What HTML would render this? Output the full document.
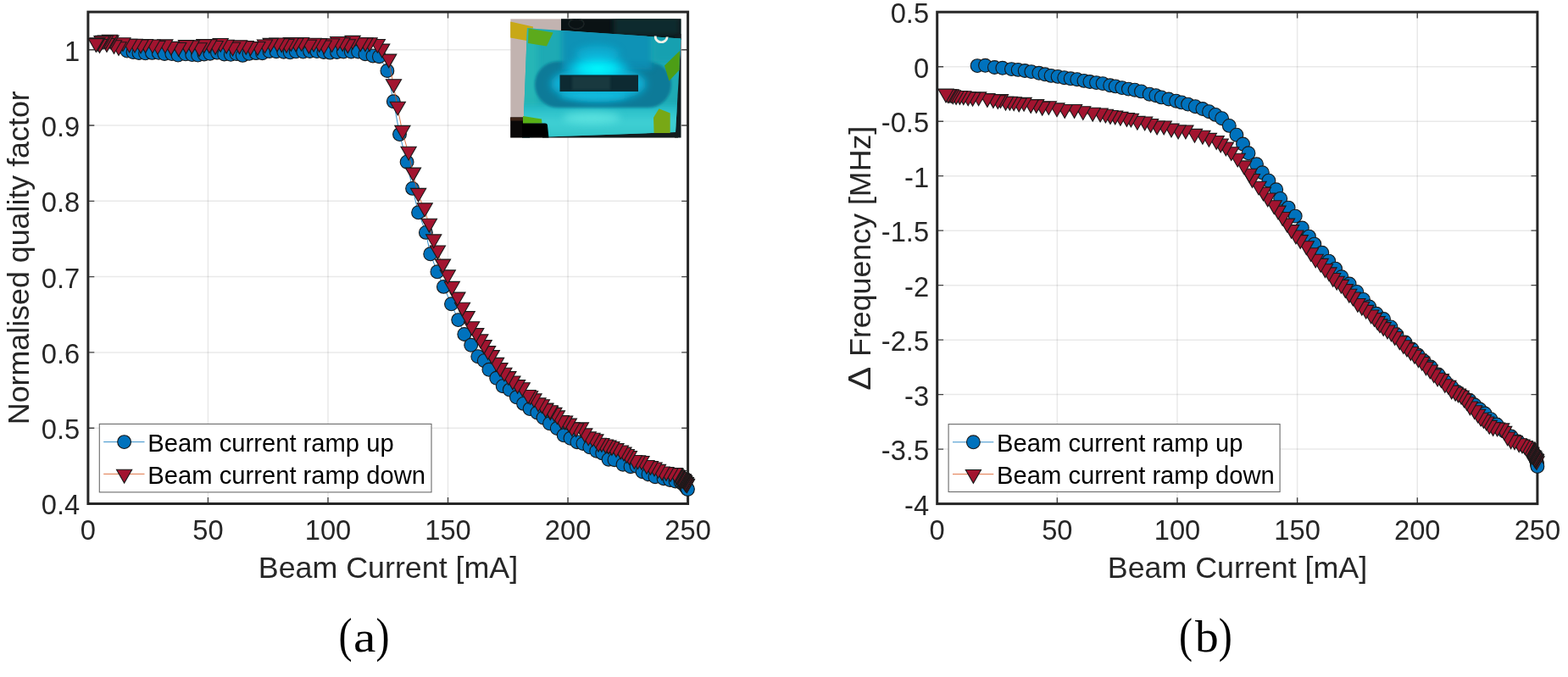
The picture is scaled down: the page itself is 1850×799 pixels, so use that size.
<!DOCTYPE html>
<html><head><meta charset="utf-8"><title>figure</title><style>html,body{margin:0;padding:0;background:#fff;width:1850px;height:799px;overflow:hidden}svg{display:block}</style></head><body>
<svg width="1850" height="799" viewBox="0 0 1850 799" font-family="'Liberation Sans', Arial, Helvetica, sans-serif" font-size="32.7" fill="#262626">
<rect width="1850" height="799" fill="#fff"/>
<path d="M245.44 14.10V594.50M386.98 14.10V594.50M528.52 14.10V594.50M670.06 14.10V594.50" stroke="#262626" stroke-opacity="0.1" stroke-width="1.5" fill="none"/>
<path d="M103.90 505.21H811.60M103.90 415.92H811.60M103.90 326.62H811.60M103.90 237.33H811.60M103.90 148.04H811.60M103.90 58.75H811.60" stroke="#262626" stroke-opacity="0.1" stroke-width="1.5" fill="none"/>
<path d="M103.90 594.50v-7.4M103.90 14.10v7.4M245.44 594.50v-7.4M245.44 14.10v7.4M386.98 594.50v-7.4M386.98 14.10v7.4M528.52 594.50v-7.4M528.52 14.10v7.4M670.06 594.50v-7.4M670.06 14.10v7.4M811.60 594.50v-7.4M811.60 14.10v7.4M103.90 594.50h7.4M811.60 594.50h-7.4M103.90 505.21h7.4M811.60 505.21h-7.4M103.90 415.92h7.4M811.60 415.92h-7.4M103.90 326.62h7.4M811.60 326.62h-7.4M103.90 237.33h7.4M811.60 237.33h-7.4M103.90 148.04h7.4M811.60 148.04h-7.4M103.90 58.75h7.4M811.60 58.75h-7.4" stroke="#444" stroke-width="1.4" fill="none"/>
<rect x="103.90" y="14.10" width="707.70" height="580.40" fill="none" stroke="#262626" stroke-width="3"/>
<defs>
<clipPath id="inclip"><rect x="602.2" y="22.2" width="201.3" height="140.4"/></clipPath>
<clipPath id="sheetclip"><path d="M622 33.3L803.5 45.5L797 156L617 162.6Z"/></clipPath>
<filter id="b1" x="-10%" y="-10%" width="120%" height="120%"><feGaussianBlur stdDeviation="0.6"/></filter>
<filter id="b15" x="-20%" y="-20%" width="140%" height="140%"><feGaussianBlur stdDeviation="1.5"/></filter>
<filter id="b3" x="-30%" y="-30%" width="160%" height="160%"><feGaussianBlur stdDeviation="3"/></filter>
<filter id="b5" x="-50%" y="-50%" width="200%" height="200%"><feGaussianBlur stdDeviation="5"/></filter>
<radialGradient id="glow" cx="0.5" cy="0.5" r="0.5">
<stop offset="0" stop-color="#00ffff"/>
<stop offset="0.5" stop-color="#00f0ff" stop-opacity="0.8"/>
<stop offset="1" stop-color="#00d8f8" stop-opacity="0"/>
</radialGradient>
<linearGradient id="botg" x1="0" y1="0" x2="0" y2="1">
<stop offset="0" stop-color="#22b8c4"/>
<stop offset="0.5" stop-color="#40d0d4"/>
<stop offset="1" stop-color="#30c4c8"/>
</linearGradient>
</defs>
<g clip-path="url(#inclip)">
<rect x="602.2" y="22.2" width="201.3" height="140.4" fill="#c2b3b0"/>
<path d="M662 22H804V47L662 36Z" fill="#0a1214"/>
<rect x="724" y="20" width="78" height="22" fill="#0d2a2e" filter="url(#b3)"/>
<ellipse cx="680" cy="28" rx="9" ry="6" fill="none" stroke="#1a2224" stroke-width="1.6" filter="url(#b1)"/>
<rect x="796" y="40" width="10" height="123" fill="#101d21"/>
<path d="M602 138.5H625V163H602Z" fill="#0a0808"/>
<rect x="602" y="138.5" width="20" height="4" fill="#3a2014" filter="url(#b1)"/>
<path d="M640 160.5L800 154V163H640Z" fill="#141c1e"/>
<path d="M602 25.5L629 31.5L627 49L602 44.5Z" fill="#c8a814" filter="url(#b1)"/>
<g clip-path="url(#sheetclip)">
<rect x="600" y="30" width="210" height="140" fill="#1eaab4"/>
<rect x="600" y="30" width="34" height="100" fill="#26b6b6" filter="url(#b3)"/>
<rect x="604" y="124" width="200" height="40" fill="url(#botg)" filter="url(#b3)"/>
<ellipse cx="698" cy="139" rx="34" ry="7" fill="#70f0e8" opacity="0.6" filter="url(#b5)"/>
<rect x="631" y="72.5" width="161" height="54.5" rx="27" fill="#0c7a98" filter="url(#b15)"/>
<rect x="663" y="26" width="106" height="56" fill="#1090b6" opacity="0.9" filter="url(#b3)"/>
<rect x="770" y="40" width="40" height="34" fill="#16a0b0" filter="url(#b3)"/>
<ellipse cx="706" cy="99" rx="56" ry="21" fill="#0eb2d8" filter="url(#b5)"/>
<ellipse cx="705" cy="80" rx="40" ry="17" fill="url(#glow)" filter="url(#b3)"/>
<ellipse cx="705" cy="64" rx="26" ry="10" fill="#08c4e8" opacity="0.55" filter="url(#b5)"/>
<ellipse cx="700" cy="113" rx="40" ry="5" fill="#14c0e0" opacity="0.6" filter="url(#b3)"/>
<rect x="660.5" y="88.5" width="92.5" height="19.5" fill="#0a2a30" filter="url(#b1)"/>
<rect x="675" y="90" width="45" height="16" fill="#3a6464" opacity="0.28" filter="url(#b15)"/>
</g>
<path d="M623.5 33.6L652.6 38.5L645 54.5L623 51Z" fill="#5caa1c" filter="url(#b1)"/>
<path d="M784 77.5L802 60L801.5 82.5L789.5 95.5Z" fill="#4e9e14" filter="url(#b1)"/>
<path d="M617 137L639 140.5L639.5 145.5L617 146Z" fill="#58b018" filter="url(#b1)"/>
<path d="M771 138.8L777.5 128.3L790.7 133.6L790.7 157L771.6 157Z" fill="#78a818" filter="url(#b1)"/>
<path d="M616 145.5H643A3 3 0 0 1 646 148.5L647.5 163H616Z" fill="#060606" filter="url(#b1)"/>
<path d="M773.2 42.5A7 6.8 0 0 0 787.2 43.5" fill="none" stroke="#f4f2e8" stroke-width="2.8" filter="url(#b1)"/>
</g>
<polyline points="150.00,60.04 157.07,61.60 163.96,62.49 171.54,62.83 179.46,62.41 187.20,62.38 194.13,63.50 202.81,63.53 210.05,65.08 219.01,63.82 226.67,64.57 233.49,65.12 240.89,63.93 247.89,63.26 256.54,62.17 264.63,64.01 272.23,64.37 279.09,63.64 286.29,65.41 294.02,63.37 302.13,62.65 309.55,62.73 317.92,60.46 326.00,60.72 334.79,61.20 342.19,61.85 349.18,60.83 357.69,61.05 365.56,60.43 373.86,60.62 381.94,61.44 389.39,62.17 397.52,61.52 405.31,60.96 414.27,61.02 422.56,61.00 430.93,63.73 440.00,65.97 447.39,66.70 456.90,83.50 464.30,119.80 471.50,158.60 480.10,191.20 486.60,222.40 493.60,250.80 502.40,274.40 507.70,299.80 515.90,320.80 523.40,338.40 532.50,358.80 540.70,377.60 547.80,394.50 555.70,407.30 563.80,420.70 571.30,425.70 576.90,436.30 585.70,446.30 593.20,455.70 601.30,460.10 609.40,468.80 617.60,476.40 625.10,482.60 633.80,487.00 641.00,493.00 648.50,499.80 657.30,505.50 665.20,513.80 673.00,517.30 680.90,521.70 687.90,523.50 695.80,527.80 703.70,532.20 710.70,534.90 718.00,542.20 725.00,542.70 735.00,548.20 744.00,550.70 751.00,550.20 758.00,556.70 765.00,559.70 773.00,562.70 783.00,564.70 790.50,566.50 797.00,568.00 803.00,569.00 805.00,570.50 807.00,572.00 808.50,573.50 809.50,575.00 810.30,576.00 811.00,577.00 811.40,577.50" fill="none" stroke="#0072BD" stroke-width="0.8"/>
<g fill="#0072BD" stroke="#1a1a1a" stroke-width="1.1"><circle cx="150.00" cy="60.04" r="7.9"/><circle cx="157.07" cy="61.60" r="7.9"/><circle cx="163.96" cy="62.49" r="7.9"/><circle cx="171.54" cy="62.83" r="7.9"/><circle cx="179.46" cy="62.41" r="7.9"/><circle cx="187.20" cy="62.38" r="7.9"/><circle cx="194.13" cy="63.50" r="7.9"/><circle cx="202.81" cy="63.53" r="7.9"/><circle cx="210.05" cy="65.08" r="7.9"/><circle cx="219.01" cy="63.82" r="7.9"/><circle cx="226.67" cy="64.57" r="7.9"/><circle cx="233.49" cy="65.12" r="7.9"/><circle cx="240.89" cy="63.93" r="7.9"/><circle cx="247.89" cy="63.26" r="7.9"/><circle cx="256.54" cy="62.17" r="7.9"/><circle cx="264.63" cy="64.01" r="7.9"/><circle cx="272.23" cy="64.37" r="7.9"/><circle cx="279.09" cy="63.64" r="7.9"/><circle cx="286.29" cy="65.41" r="7.9"/><circle cx="294.02" cy="63.37" r="7.9"/><circle cx="302.13" cy="62.65" r="7.9"/><circle cx="309.55" cy="62.73" r="7.9"/><circle cx="317.92" cy="60.46" r="7.9"/><circle cx="326.00" cy="60.72" r="7.9"/><circle cx="334.79" cy="61.20" r="7.9"/><circle cx="342.19" cy="61.85" r="7.9"/><circle cx="349.18" cy="60.83" r="7.9"/><circle cx="357.69" cy="61.05" r="7.9"/><circle cx="365.56" cy="60.43" r="7.9"/><circle cx="373.86" cy="60.62" r="7.9"/><circle cx="381.94" cy="61.44" r="7.9"/><circle cx="389.39" cy="62.17" r="7.9"/><circle cx="397.52" cy="61.52" r="7.9"/><circle cx="405.31" cy="60.96" r="7.9"/><circle cx="414.27" cy="61.02" r="7.9"/><circle cx="422.56" cy="61.00" r="7.9"/><circle cx="430.93" cy="63.73" r="7.9"/><circle cx="440.00" cy="65.97" r="7.9"/><circle cx="447.39" cy="66.70" r="7.9"/><circle cx="456.90" cy="83.50" r="7.9"/><circle cx="464.30" cy="119.80" r="7.9"/><circle cx="471.50" cy="158.60" r="7.9"/><circle cx="480.10" cy="191.20" r="7.9"/><circle cx="486.60" cy="222.40" r="7.9"/><circle cx="493.60" cy="250.80" r="7.9"/><circle cx="502.40" cy="274.40" r="7.9"/><circle cx="507.70" cy="299.80" r="7.9"/><circle cx="515.90" cy="320.80" r="7.9"/><circle cx="523.40" cy="338.40" r="7.9"/><circle cx="532.50" cy="358.80" r="7.9"/><circle cx="540.70" cy="377.60" r="7.9"/><circle cx="547.80" cy="394.50" r="7.9"/><circle cx="555.70" cy="407.30" r="7.9"/><circle cx="563.80" cy="420.70" r="7.9"/><circle cx="571.30" cy="425.70" r="7.9"/><circle cx="576.90" cy="436.30" r="7.9"/><circle cx="585.70" cy="446.30" r="7.9"/><circle cx="593.20" cy="455.70" r="7.9"/><circle cx="601.30" cy="460.10" r="7.9"/><circle cx="609.40" cy="468.80" r="7.9"/><circle cx="617.60" cy="476.40" r="7.9"/><circle cx="625.10" cy="482.60" r="7.9"/><circle cx="633.80" cy="487.00" r="7.9"/><circle cx="641.00" cy="493.00" r="7.9"/><circle cx="648.50" cy="499.80" r="7.9"/><circle cx="657.30" cy="505.50" r="7.9"/><circle cx="665.20" cy="513.80" r="7.9"/><circle cx="673.00" cy="517.30" r="7.9"/><circle cx="680.90" cy="521.70" r="7.9"/><circle cx="687.90" cy="523.50" r="7.9"/><circle cx="695.80" cy="527.80" r="7.9"/><circle cx="703.70" cy="532.20" r="7.9"/><circle cx="710.70" cy="534.90" r="7.9"/><circle cx="718.00" cy="542.20" r="7.9"/><circle cx="725.00" cy="542.70" r="7.9"/><circle cx="735.00" cy="548.20" r="7.9"/><circle cx="744.00" cy="550.70" r="7.9"/><circle cx="751.00" cy="550.20" r="7.9"/><circle cx="758.00" cy="556.70" r="7.9"/><circle cx="765.00" cy="559.70" r="7.9"/><circle cx="773.00" cy="562.70" r="7.9"/><circle cx="783.00" cy="564.70" r="7.9"/><circle cx="790.50" cy="566.50" r="7.9"/><circle cx="797.00" cy="568.00" r="7.9"/><circle cx="803.00" cy="569.00" r="7.9"/><circle cx="805.00" cy="570.50" r="7.9"/><circle cx="807.00" cy="572.00" r="7.9"/><circle cx="808.50" cy="573.50" r="7.9"/><circle cx="809.50" cy="575.00" r="7.9"/><circle cx="810.30" cy="576.00" r="7.9"/><circle cx="811.00" cy="577.00" r="7.9"/><circle cx="811.40" cy="577.50" r="7.9"/></g>
<polyline points="113.30,53.50 115.00,52.60 117.50,54.40 120.00,50.50 122.00,50.10 124.50,49.90 126.00,53.40 129.50,49.10 131.00,50.00 134.50,55.60 140.00,57.60 145.00,52.60 152.60,54.10 159.00,54.09 166.03,54.92 171.58,54.41 179.94,54.86 186.05,56.29 194.85,54.77 201.83,57.22 210.69,58.45 219.46,55.46 226.30,55.74 235.16,58.68 240.85,54.50 246.89,54.68 254.03,56.42 260.20,53.32 267.05,55.15 274.54,58.11 282.56,55.75 290.27,56.51 295.54,57.62 303.95,57.41 312.44,54.82 319.20,53.25 326.98,52.95 332.31,53.66 338.05,54.29 343.32,52.47 349.01,52.94 355.62,52.36 364.44,55.16 370.12,53.11 376.66,53.49 382.23,55.85 391.56,53.58 398.70,51.39 404.18,52.47 410.36,54.69 416.10,50.22 425.25,52.65 430.92,52.72 436.08,52.65 445.34,54.39 450.70,60.00 458.70,72.00 464.50,101.60 469.30,128.10 474.90,156.30 482.10,181.10 487.50,206.00 493.60,230.30 501.20,247.80 506.40,266.20 511.70,284.80 516.40,297.90 522.50,314.00 528.30,326.80 533.30,340.30 539.90,353.00 545.50,365.20 551.20,375.50 556.60,387.60 561.80,395.50 566.80,402.80 571.20,409.50 575.60,416.50 580.30,421.50 585.60,430.30 590.00,436.50 594.90,442.10 599.90,446.50 604.90,451.90 610.60,456.50 616.20,459.60 623.10,468.40 625.60,469.60 630.00,472.80 635.00,477.80 639.40,479.70 643.70,484.70 643.80,484.00 649.00,486.70 649.40,487.80 653.90,489.30 657.40,492.80 662.20,498.50 666.60,498.90 671.40,502.00 674.90,506.80 679.70,507.70 685.40,506.80 689.80,513.80 694.20,517.80 699.00,519.10 702.90,520.80 706.00,525.20 709.90,525.40 714.40,526.90 718.00,528.00 721.90,529.40 727.00,531.50 732.40,533.90 736.00,536.00 739.40,538.40 742.40,540.40 748.40,545.40 752.50,545.80 757.00,546.40 763.00,551.40 767.50,552.50 772.00,553.90 776.50,556.30 781.00,558.90 786.00,559.50 791.00,560.50 796.00,560.43 796.58,561.14 797.16,561.12 797.74,563.03 798.32,562.92 798.90,563.97 799.48,563.35 800.06,563.56 800.64,565.43 801.22,566.30 801.80,566.45 802.38,566.79 802.96,567.28 803.54,567.56 804.12,566.78 804.70,567.94 805.28,568.01 805.86,567.69 806.44,568.15 807.02,569.21 807.60,569.62 808.18,571.12 808.76,572.22 809.34,571.45 809.92,573.09 810.50,573.67" fill="none" stroke="#D95319" stroke-width="0.8"/>
<g fill="#A2142F" stroke="#1a1a1a" stroke-width="1.1" stroke-linejoin="miter"><path d="M801.40 565.79H819.60L810.50 581.55Z"/><path d="M800.82 565.21H819.02L809.92 580.97Z"/><path d="M800.24 563.57H818.44L809.34 579.33Z"/><path d="M799.66 564.34H817.86L808.76 580.10Z"/><path d="M799.08 563.24H817.28L808.18 579.00Z"/><path d="M798.50 561.74H816.70L807.60 577.50Z"/><path d="M797.92 561.33H816.12L807.02 577.09Z"/><path d="M797.34 560.27H815.54L806.44 576.03Z"/><path d="M796.76 559.81H814.96L805.86 575.57Z"/><path d="M796.18 560.13H814.38L805.28 575.89Z"/><path d="M795.60 560.06H813.80L804.70 575.82Z"/><path d="M795.02 558.90H813.22L804.12 574.66Z"/><path d="M794.44 559.68H812.64L803.54 575.44Z"/><path d="M793.86 559.40H812.06L802.96 575.16Z"/><path d="M793.28 558.91H811.48L802.38 574.68Z"/><path d="M792.70 558.57H810.90L801.80 574.33Z"/><path d="M792.12 558.42H810.32L801.22 574.18Z"/><path d="M791.54 557.55H809.74L800.64 573.31Z"/><path d="M790.96 555.67H809.16L800.06 571.44Z"/><path d="M790.38 555.47H808.58L799.48 571.23Z"/><path d="M789.80 556.09H808.00L798.90 571.85Z"/><path d="M789.22 555.04H807.42L798.32 570.80Z"/><path d="M788.64 555.15H806.84L797.74 570.91Z"/><path d="M788.06 553.24H806.26L797.16 569.00Z"/><path d="M787.48 553.26H805.68L796.58 569.02Z"/><path d="M786.90 552.55H805.10L796.00 568.31Z"/><path d="M781.90 552.62H800.10L791.00 568.38Z"/><path d="M776.90 551.62H795.10L786.00 567.38Z"/><path d="M771.90 551.02H790.10L781.00 566.78Z"/><path d="M767.40 548.42H785.60L776.50 564.18Z"/><path d="M762.90 546.02H781.10L772.00 561.78Z"/><path d="M758.40 544.62H776.60L767.50 560.38Z"/><path d="M753.90 543.52H772.10L763.00 559.28Z"/><path d="M747.90 538.52H766.10L757.00 554.28Z"/><path d="M743.40 537.92H761.60L752.50 553.68Z"/><path d="M739.30 537.52H757.50L748.40 553.28Z"/><path d="M733.30 532.52H751.50L742.40 548.28Z"/><path d="M730.30 530.52H748.50L739.40 546.28Z"/><path d="M726.90 528.12H745.10L736.00 543.88Z"/><path d="M723.30 526.02H741.50L732.40 541.78Z"/><path d="M717.90 523.62H736.10L727.00 539.38Z"/><path d="M712.80 521.52H731.00L721.90 537.28Z"/><path d="M708.90 520.12H727.10L718.00 535.88Z"/><path d="M705.30 519.02H723.50L714.40 534.78Z"/><path d="M700.80 517.52H719.00L709.90 533.28Z"/><path d="M696.90 517.32H715.10L706.00 533.08Z"/><path d="M693.80 512.92H712.00L702.90 528.68Z"/><path d="M689.90 511.22H708.10L699.00 526.98Z"/><path d="M685.10 509.92H703.30L694.20 525.68Z"/><path d="M680.70 505.92H698.90L689.80 521.68Z"/><path d="M676.30 498.92H694.50L685.40 514.68Z"/><path d="M670.60 499.82H688.80L679.70 515.58Z"/><path d="M665.80 498.92H684.00L674.90 514.68Z"/><path d="M662.30 494.12H680.50L671.40 509.88Z"/><path d="M657.50 491.02H675.70L666.60 506.78Z"/><path d="M653.10 490.62H671.30L662.20 506.38Z"/><path d="M648.30 484.92H666.50L657.40 500.68Z"/><path d="M644.80 481.42H663.00L653.90 497.18Z"/><path d="M640.30 479.92H658.50L649.40 495.68Z"/><path d="M639.90 478.82H658.10L649.00 494.58Z"/><path d="M634.70 476.12H652.90L643.80 491.88Z"/><path d="M634.60 476.82H652.80L643.70 492.58Z"/><path d="M630.30 471.82H648.50L639.40 487.58Z"/><path d="M625.90 469.92H644.10L635.00 485.68Z"/><path d="M620.90 464.92H639.10L630.00 480.68Z"/><path d="M616.50 461.72H634.70L625.60 477.48Z"/><path d="M614.00 460.52H632.20L623.10 476.28Z"/><path d="M607.10 451.72H625.30L616.20 467.48Z"/><path d="M601.50 448.62H619.70L610.60 464.38Z"/><path d="M595.80 444.02H614.00L604.90 459.78Z"/><path d="M590.80 438.62H609.00L599.90 454.38Z"/><path d="M585.80 434.22H604.00L594.90 449.98Z"/><path d="M580.90 428.62H599.10L590.00 444.38Z"/><path d="M576.50 422.42H594.70L585.60 438.18Z"/><path d="M571.20 413.62H589.40L580.30 429.38Z"/><path d="M566.50 408.62H584.70L575.60 424.38Z"/><path d="M562.10 401.62H580.30L571.20 417.38Z"/><path d="M557.70 394.92H575.90L566.80 410.68Z"/><path d="M552.70 387.62H570.90L561.80 403.38Z"/><path d="M547.50 379.72H565.70L556.60 395.48Z"/><path d="M542.10 367.62H560.30L551.20 383.38Z"/><path d="M536.40 357.32H554.60L545.50 373.08Z"/><path d="M530.80 345.12H549.00L539.90 360.88Z"/><path d="M524.20 332.42H542.40L533.30 348.18Z"/><path d="M519.20 318.92H537.40L528.30 334.68Z"/><path d="M513.40 306.12H531.60L522.50 321.88Z"/><path d="M507.30 290.02H525.50L516.40 305.78Z"/><path d="M502.60 276.92H520.80L511.70 292.68Z"/><path d="M497.30 258.32H515.50L506.40 274.08Z"/><path d="M492.10 239.92H510.30L501.20 255.68Z"/><path d="M484.50 222.42H502.70L493.60 238.18Z"/><path d="M478.40 198.12H496.60L487.50 213.88Z"/><path d="M473.00 173.22H491.20L482.10 188.98Z"/><path d="M465.80 148.42H484.00L474.90 164.18Z"/><path d="M460.20 120.22H478.40L469.30 135.98Z"/><path d="M455.40 93.72H473.60L464.50 109.48Z"/><path d="M449.60 64.12H467.80L458.70 79.88Z"/><path d="M441.60 52.12H459.80L450.70 67.88Z"/><path d="M436.24 46.51H454.44L445.34 62.27Z"/><path d="M426.98 44.77H445.18L436.08 60.53Z"/><path d="M421.82 44.84H440.02L430.92 60.61Z"/><path d="M416.15 44.77H434.35L425.25 60.53Z"/><path d="M407.00 42.33H425.20L416.10 58.10Z"/><path d="M401.26 46.81H419.46L410.36 62.57Z"/><path d="M395.08 44.59H413.28L404.18 60.35Z"/><path d="M389.60 43.51H407.80L398.70 59.27Z"/><path d="M382.46 45.70H400.66L391.56 61.46Z"/><path d="M373.13 47.97H391.33L382.23 63.73Z"/><path d="M367.56 45.61H385.76L376.66 61.37Z"/><path d="M361.02 45.23H379.22L370.12 60.99Z"/><path d="M355.34 47.28H373.54L364.44 63.04Z"/><path d="M346.52 44.48H364.72L355.62 60.24Z"/><path d="M339.91 45.06H358.11L349.01 60.82Z"/><path d="M334.22 44.59H352.42L343.32 60.35Z"/><path d="M328.95 46.41H347.15L338.05 62.17Z"/><path d="M323.21 45.78H341.41L332.31 61.54Z"/><path d="M317.88 45.07H336.08L326.98 60.83Z"/><path d="M310.10 45.37H328.30L319.20 61.13Z"/><path d="M303.34 46.94H321.54L312.44 62.70Z"/><path d="M294.85 49.53H313.05L303.95 65.29Z"/><path d="M286.44 49.74H304.64L295.54 65.50Z"/><path d="M281.17 48.63H299.37L290.27 64.39Z"/><path d="M273.46 47.87H291.66L282.56 63.64Z"/><path d="M265.44 50.23H283.64L274.54 65.99Z"/><path d="M257.95 47.27H276.15L267.05 63.03Z"/><path d="M251.10 45.44H269.30L260.20 61.20Z"/><path d="M244.93 48.54H263.13L254.03 64.30Z"/><path d="M237.79 46.79H255.99L246.89 62.56Z"/><path d="M231.75 46.62H249.95L240.85 62.38Z"/><path d="M226.06 50.80H244.26L235.16 66.56Z"/><path d="M217.20 47.86H235.40L226.30 63.62Z"/><path d="M210.36 47.58H228.56L219.46 63.34Z"/><path d="M201.59 50.57H219.79L210.69 66.33Z"/><path d="M192.73 49.34H210.93L201.83 65.10Z"/><path d="M185.75 46.88H203.95L194.85 62.65Z"/><path d="M176.95 48.41H195.15L186.05 64.17Z"/><path d="M170.84 46.98H189.04L179.94 62.74Z"/><path d="M162.48 46.53H180.68L171.58 62.29Z"/><path d="M156.93 47.04H175.13L166.03 62.80Z"/><path d="M149.90 46.21H168.10L159.00 61.97Z"/><path d="M143.50 46.22H161.70L152.60 61.98Z"/><path d="M135.90 44.72H154.10L145.00 60.48Z"/><path d="M130.90 49.72H149.10L140.00 65.48Z"/><path d="M125.40 47.72H143.60L134.50 63.48Z"/><path d="M121.90 42.12H140.10L131.00 57.88Z"/><path d="M120.40 41.22H138.60L129.50 56.98Z"/><path d="M116.90 45.52H135.10L126.00 61.28Z"/><path d="M115.40 42.02H133.60L124.50 57.78Z"/><path d="M112.90 42.22H131.10L122.00 57.98Z"/><path d="M110.90 42.62H129.10L120.00 58.38Z"/><path d="M108.40 46.52H126.60L117.50 62.28Z"/><path d="M105.90 44.72H124.10L115.00 60.48Z"/><path d="M104.20 45.62H122.40L113.30 61.38Z"/></g>
<rect x="117.30" y="500.40" width="391.70" height="80.50" fill="#fff" stroke="#6a6a6a" stroke-width="1.1"/>
<path d="M122.20 521.60H170.50" stroke="#0072BD" stroke-width="0.8"/>
<g fill="#0072BD" stroke="#1a1a1a" stroke-width="1.1"><circle cx="146.60" cy="521.60" r="7.9"/></g>
<path d="M122.20 559.40H170.50" stroke="#D95319" stroke-width="0.8"/>
<g fill="#A2142F" stroke="#1a1a1a" stroke-width="1.1"><path d="M137.50 554.32H155.70L146.60 570.08Z"/></g>
<text x="174.30" y="532.60" font-size="29.2" fill="#000">Beam current ramp up</text>
<text x="174.30" y="570.60" font-size="29.2" fill="#000">Beam current ramp down</text>
<text transform="translate(103.90,636.8) scale(1,1.035)" text-anchor="middle">0</text>
<text transform="translate(245.44,636.8) scale(1,1.035)" text-anchor="middle">50</text>
<text transform="translate(386.98,636.8) scale(1,1.035)" text-anchor="middle">100</text>
<text transform="translate(528.52,636.8) scale(1,1.035)" text-anchor="middle">150</text>
<text transform="translate(670.06,636.8) scale(1,1.035)" text-anchor="middle">200</text>
<text transform="translate(811.60,636.8) scale(1,1.035)" text-anchor="middle">250</text>
<text transform="translate(94.30,607.40) scale(1,1.035)" text-anchor="end">0.4</text>
<text transform="translate(94.30,518.11) scale(1,1.035)" text-anchor="end">0.5</text>
<text transform="translate(94.30,428.82) scale(1,1.035)" text-anchor="end">0.6</text>
<text transform="translate(94.30,339.52) scale(1,1.035)" text-anchor="end">0.7</text>
<text transform="translate(94.30,250.23) scale(1,1.035)" text-anchor="end">0.8</text>
<text transform="translate(94.30,160.94) scale(1,1.035)" text-anchor="end">0.9</text>
<text transform="translate(94.30,71.65) scale(1,1.035)" text-anchor="end">1</text>
<text x="457.95" y="681.9" text-anchor="middle" font-size="35.8">Beam Current [mA]</text>
<text transform="translate(33.90,304.25) rotate(-90)" text-anchor="middle" font-size="35.8">Normalised quality factor</text>
<path d="M1247.34 14.20V594.60M1388.98 14.20V594.60M1530.62 14.20V594.60M1672.26 14.20V594.60" stroke="#262626" stroke-opacity="0.1" stroke-width="1.5" fill="none"/>
<path d="M1105.70 78.69H1813.90M1105.70 143.18H1813.90M1105.70 207.67H1813.90M1105.70 272.16H1813.90M1105.70 336.64H1813.90M1105.70 401.13H1813.90M1105.70 465.62H1813.90M1105.70 530.11H1813.90" stroke="#262626" stroke-opacity="0.1" stroke-width="1.5" fill="none"/>
<path d="M1105.70 594.60v-7.4M1105.70 14.20v7.4M1247.34 594.60v-7.4M1247.34 14.20v7.4M1388.98 594.60v-7.4M1388.98 14.20v7.4M1530.62 594.60v-7.4M1530.62 14.20v7.4M1672.26 594.60v-7.4M1672.26 14.20v7.4M1813.90 594.60v-7.4M1813.90 14.20v7.4M1105.70 14.20h7.4M1813.90 14.20h-7.4M1105.70 78.69h7.4M1813.90 78.69h-7.4M1105.70 143.18h7.4M1813.90 143.18h-7.4M1105.70 207.67h7.4M1813.90 207.67h-7.4M1105.70 272.16h7.4M1813.90 272.16h-7.4M1105.70 336.64h7.4M1813.90 336.64h-7.4M1105.70 401.13h7.4M1813.90 401.13h-7.4M1105.70 465.62h7.4M1813.90 465.62h-7.4M1105.70 530.11h7.4M1813.90 530.11h-7.4M1105.70 594.60h7.4M1813.90 594.60h-7.4" stroke="#444" stroke-width="1.4" fill="none"/>
<rect x="1105.70" y="14.20" width="708.20" height="580.40" fill="none" stroke="#262626" stroke-width="3"/>
<polyline points="1153.10,77.60 1162.50,77.30 1173.40,79.50 1182.80,80.30 1193.40,81.60 1201.20,82.40 1209.20,83.50 1216.80,84.60 1225.80,86.30 1233.00,87.80 1240.10,89.40 1248.10,90.40 1255.70,91.70 1263.20,92.80 1270.80,93.70 1279.00,95.40 1285.90,96.50 1293.50,97.60 1301.10,98.60 1309.70,100.80 1316.20,101.90 1323.80,103.60 1331.40,105.10 1338.90,106.20 1346.50,107.90 1356.20,111.20 1363.80,112.70 1370.30,114.90 1378.90,117.00 1387.60,119.20 1394.10,120.90 1401.60,123.10 1410.30,125.70 1418.90,128.50 1426.50,131.70 1434.10,135.40 1441.60,139.70 1450.30,148.40 1458.90,159.20 1466.50,170.00 1473.00,180.80 1482.50,193.80 1489.40,203.80 1496.90,213.20 1505.70,223.80 1510.70,234.40 1520.10,245.10 1528.20,255.10 1536.30,269.00 1544.40,279.10 1550.80,288.10 1559.80,298.30 1567.70,308.10 1575.60,317.10 1582.90,326.80 1592.10,335.00 1600.80,344.40 1608.50,353.40 1615.60,362.00 1624.00,370.30 1632.50,376.50 1641.00,385.90 1648.00,395.00 1658.00,404.00 1666.00,412.00 1673.00,419.00 1680.00,426.00 1688.00,433.00 1697.00,442.00 1705.00,450.00 1713.00,457.00 1720.00,463.00 1727.00,468.00 1734.00,472.50 1740.00,478.00 1746.00,483.00 1752.00,488.00 1759.00,494.70 1766.00,501.00 1775.00,509.00 1783.00,515.00 1791.00,521.00 1799.00,526.00 1805.00,531.00 1809.00,537.00 1810.50,539.00 1811.50,541.00 1812.30,543.00 1813.00,545.00 1813.40,547.00 1813.70,549.00 1813.90,550.50" fill="none" stroke="#0072BD" stroke-width="0.8"/>
<g fill="#0072BD" stroke="#1a1a1a" stroke-width="1.1"><circle cx="1153.10" cy="77.60" r="7.9"/><circle cx="1162.50" cy="77.30" r="7.9"/><circle cx="1173.40" cy="79.50" r="7.9"/><circle cx="1182.80" cy="80.30" r="7.9"/><circle cx="1193.40" cy="81.60" r="7.9"/><circle cx="1201.20" cy="82.40" r="7.9"/><circle cx="1209.20" cy="83.50" r="7.9"/><circle cx="1216.80" cy="84.60" r="7.9"/><circle cx="1225.80" cy="86.30" r="7.9"/><circle cx="1233.00" cy="87.80" r="7.9"/><circle cx="1240.10" cy="89.40" r="7.9"/><circle cx="1248.10" cy="90.40" r="7.9"/><circle cx="1255.70" cy="91.70" r="7.9"/><circle cx="1263.20" cy="92.80" r="7.9"/><circle cx="1270.80" cy="93.70" r="7.9"/><circle cx="1279.00" cy="95.40" r="7.9"/><circle cx="1285.90" cy="96.50" r="7.9"/><circle cx="1293.50" cy="97.60" r="7.9"/><circle cx="1301.10" cy="98.60" r="7.9"/><circle cx="1309.70" cy="100.80" r="7.9"/><circle cx="1316.20" cy="101.90" r="7.9"/><circle cx="1323.80" cy="103.60" r="7.9"/><circle cx="1331.40" cy="105.10" r="7.9"/><circle cx="1338.90" cy="106.20" r="7.9"/><circle cx="1346.50" cy="107.90" r="7.9"/><circle cx="1356.20" cy="111.20" r="7.9"/><circle cx="1363.80" cy="112.70" r="7.9"/><circle cx="1370.30" cy="114.90" r="7.9"/><circle cx="1378.90" cy="117.00" r="7.9"/><circle cx="1387.60" cy="119.20" r="7.9"/><circle cx="1394.10" cy="120.90" r="7.9"/><circle cx="1401.60" cy="123.10" r="7.9"/><circle cx="1410.30" cy="125.70" r="7.9"/><circle cx="1418.90" cy="128.50" r="7.9"/><circle cx="1426.50" cy="131.70" r="7.9"/><circle cx="1434.10" cy="135.40" r="7.9"/><circle cx="1441.60" cy="139.70" r="7.9"/><circle cx="1450.30" cy="148.40" r="7.9"/><circle cx="1458.90" cy="159.20" r="7.9"/><circle cx="1466.50" cy="170.00" r="7.9"/><circle cx="1473.00" cy="180.80" r="7.9"/><circle cx="1482.50" cy="193.80" r="7.9"/><circle cx="1489.40" cy="203.80" r="7.9"/><circle cx="1496.90" cy="213.20" r="7.9"/><circle cx="1505.70" cy="223.80" r="7.9"/><circle cx="1510.70" cy="234.40" r="7.9"/><circle cx="1520.10" cy="245.10" r="7.9"/><circle cx="1528.20" cy="255.10" r="7.9"/><circle cx="1536.30" cy="269.00" r="7.9"/><circle cx="1544.40" cy="279.10" r="7.9"/><circle cx="1550.80" cy="288.10" r="7.9"/><circle cx="1559.80" cy="298.30" r="7.9"/><circle cx="1567.70" cy="308.10" r="7.9"/><circle cx="1575.60" cy="317.10" r="7.9"/><circle cx="1582.90" cy="326.80" r="7.9"/><circle cx="1592.10" cy="335.00" r="7.9"/><circle cx="1600.80" cy="344.40" r="7.9"/><circle cx="1608.50" cy="353.40" r="7.9"/><circle cx="1615.60" cy="362.00" r="7.9"/><circle cx="1624.00" cy="370.30" r="7.9"/><circle cx="1632.50" cy="376.50" r="7.9"/><circle cx="1641.00" cy="385.90" r="7.9"/><circle cx="1648.00" cy="395.00" r="7.9"/><circle cx="1658.00" cy="404.00" r="7.9"/><circle cx="1666.00" cy="412.00" r="7.9"/><circle cx="1673.00" cy="419.00" r="7.9"/><circle cx="1680.00" cy="426.00" r="7.9"/><circle cx="1688.00" cy="433.00" r="7.9"/><circle cx="1697.00" cy="442.00" r="7.9"/><circle cx="1705.00" cy="450.00" r="7.9"/><circle cx="1713.00" cy="457.00" r="7.9"/><circle cx="1720.00" cy="463.00" r="7.9"/><circle cx="1727.00" cy="468.00" r="7.9"/><circle cx="1734.00" cy="472.50" r="7.9"/><circle cx="1740.00" cy="478.00" r="7.9"/><circle cx="1746.00" cy="483.00" r="7.9"/><circle cx="1752.00" cy="488.00" r="7.9"/><circle cx="1759.00" cy="494.70" r="7.9"/><circle cx="1766.00" cy="501.00" r="7.9"/><circle cx="1775.00" cy="509.00" r="7.9"/><circle cx="1783.00" cy="515.00" r="7.9"/><circle cx="1791.00" cy="521.00" r="7.9"/><circle cx="1799.00" cy="526.00" r="7.9"/><circle cx="1805.00" cy="531.00" r="7.9"/><circle cx="1809.00" cy="537.00" r="7.9"/><circle cx="1810.50" cy="539.00" r="7.9"/><circle cx="1811.50" cy="541.00" r="7.9"/><circle cx="1812.30" cy="543.00" r="7.9"/><circle cx="1813.00" cy="545.00" r="7.9"/><circle cx="1813.40" cy="547.00" r="7.9"/><circle cx="1813.70" cy="549.00" r="7.9"/><circle cx="1813.90" cy="550.50" r="7.9"/></g>
<polyline points="1116.00,113.00 1118.50,113.60 1120.00,113.60 1122.20,113.60 1124.30,114.70 1128.10,115.40 1132.40,115.40 1136.80,115.70 1142.20,116.80 1147.60,117.20 1154.60,116.80 1164.90,118.50 1171.90,119.50 1177.30,120.60 1180.50,119.50 1186.50,122.20 1191.40,122.20 1196.20,122.80 1202.20,123.90 1208.10,123.30 1216.20,125.50 1222.70,125.50 1229.70,128.20 1237.30,127.60 1247.00,129.80 1256.20,131.40 1267.60,131.40 1277.80,133.60 1289.20,135.20 1298.10,135.90 1304.40,137.10 1310.00,138.40 1315.70,139.00 1321.90,140.30 1329.40,141.50 1334.40,142.10 1341.90,145.30 1350.70,145.90 1357.60,148.40 1365.10,150.90 1373.20,150.90 1382.00,154.00 1390.10,155.90 1398.90,155.90 1409.50,160.30 1418.90,162.20 1426.40,165.30 1435.20,168.40 1440.20,171.90 1446.40,175.90 1452.70,181.60 1460.20,189.10 1467.70,197.80 1474.00,207.20 1477.50,213.40 1485.00,222.10 1490.50,229.00 1495.70,235.90 1503.20,244.70 1508.00,251.00 1513.20,258.40 1518.50,266.00 1523.70,273.50 1528.90,279.90 1534.20,285.50 1541.30,292.70 1546.60,300.60 1552.20,308.10 1558.20,313.30 1563.50,319.70 1568.00,323.80 1572.70,330.40 1577.20,334.20 1582.40,338.30 1587.30,343.50 1591.80,349.20 1596.30,352.90 1601.90,360.40 1606.80,364.20 1611.70,368.30 1617.70,373.90 1621.50,377.50 1625.20,381.50 1628.00,384.80 1632.20,388.50 1637.00,391.90 1641.50,394.90 1645.70,399.40 1651.30,404.70 1655.80,409.60 1659.90,412.90 1664.40,417.40 1668.90,421.20 1673.50,425.70 1677.70,429.30 1682.50,435.00 1687.30,438.90 1691.70,443.80 1696.10,448.10 1700.40,449.50 1704.80,455.60 1708.80,457.30 1712.70,463.00 1717.10,465.20 1720.50,467.00 1724.10,469.20 1727.50,473.00 1730.70,476.60 1734.40,481.90 1739.70,486.70 1743.60,491.10 1747.10,495.10 1750.50,497.50 1753.70,499.90 1757.20,504.30 1761.60,506.50 1766.50,507.00 1771.70,507.80 1774.70,511.30 1778.70,517.90 1782.60,521.80 1787.00,522.70 1792.20,525.70 1796.00,527.00 1799.30,528.40 1801.00,530.59 1801.48,529.82 1801.96,530.11 1802.44,530.76 1802.92,531.33 1803.40,531.99 1803.88,533.64 1804.36,534.94 1804.84,535.44 1805.32,535.21 1805.80,536.27 1806.28,537.26 1806.76,536.18 1807.24,538.21 1807.72,539.44 1808.20,539.78 1808.68,540.34 1809.16,540.33 1809.64,540.25 1810.12,542.35 1810.60,541.90 1811.08,543.66 1811.56,544.71 1812.04,543.97 1812.52,544.62 1813.00,546.57" fill="none" stroke="#D95319" stroke-width="0.8"/>
<g fill="#A2142F" stroke="#1a1a1a" stroke-width="1.1" stroke-linejoin="miter"><path d="M1803.90 538.69H1822.10L1813.00 554.45Z"/><path d="M1803.42 536.74H1821.62L1812.52 552.50Z"/><path d="M1802.94 536.09H1821.14L1812.04 551.85Z"/><path d="M1802.46 536.83H1820.66L1811.56 552.59Z"/><path d="M1801.98 535.78H1820.18L1811.08 551.54Z"/><path d="M1801.50 534.02H1819.70L1810.60 549.78Z"/><path d="M1801.02 534.47H1819.22L1810.12 550.23Z"/><path d="M1800.54 532.37H1818.74L1809.64 548.13Z"/><path d="M1800.06 532.45H1818.26L1809.16 548.21Z"/><path d="M1799.58 532.46H1817.78L1808.68 548.22Z"/><path d="M1799.10 531.90H1817.30L1808.20 547.66Z"/><path d="M1798.62 531.56H1816.82L1807.72 547.32Z"/><path d="M1798.14 530.32H1816.34L1807.24 546.09Z"/><path d="M1797.66 528.30H1815.86L1806.76 544.06Z"/><path d="M1797.18 529.38H1815.38L1806.28 545.14Z"/><path d="M1796.70 528.39H1814.90L1805.80 544.15Z"/><path d="M1796.22 527.33H1814.42L1805.32 543.09Z"/><path d="M1795.74 527.56H1813.94L1804.84 543.32Z"/><path d="M1795.26 527.06H1813.46L1804.36 542.82Z"/><path d="M1794.78 525.76H1812.98L1803.88 541.52Z"/><path d="M1794.30 524.11H1812.50L1803.40 539.87Z"/><path d="M1793.82 523.45H1812.02L1802.92 539.21Z"/><path d="M1793.34 522.88H1811.54L1802.44 538.65Z"/><path d="M1792.86 522.23H1811.06L1801.96 537.99Z"/><path d="M1792.38 521.93H1810.58L1801.48 537.70Z"/><path d="M1791.90 522.71H1810.10L1801.00 538.47Z"/><path d="M1790.20 520.52H1808.40L1799.30 536.28Z"/><path d="M1786.90 519.12H1805.10L1796.00 534.88Z"/><path d="M1783.10 517.82H1801.30L1792.20 533.58Z"/><path d="M1777.90 514.82H1796.10L1787.00 530.58Z"/><path d="M1773.50 513.92H1791.70L1782.60 529.68Z"/><path d="M1769.60 510.02H1787.80L1778.70 525.78Z"/><path d="M1765.60 503.42H1783.80L1774.70 519.18Z"/><path d="M1762.60 499.92H1780.80L1771.70 515.68Z"/><path d="M1757.40 499.12H1775.60L1766.50 514.88Z"/><path d="M1752.50 498.62H1770.70L1761.60 514.38Z"/><path d="M1748.10 496.42H1766.30L1757.20 512.18Z"/><path d="M1744.60 492.02H1762.80L1753.70 507.78Z"/><path d="M1741.40 489.62H1759.60L1750.50 505.38Z"/><path d="M1738.00 487.22H1756.20L1747.10 502.98Z"/><path d="M1734.50 483.22H1752.70L1743.60 498.98Z"/><path d="M1730.60 478.82H1748.80L1739.70 494.58Z"/><path d="M1725.30 474.02H1743.50L1734.40 489.78Z"/><path d="M1721.60 468.72H1739.80L1730.70 484.48Z"/><path d="M1718.40 465.12H1736.60L1727.50 480.88Z"/><path d="M1715.00 461.32H1733.20L1724.10 477.08Z"/><path d="M1711.40 459.12H1729.60L1720.50 474.88Z"/><path d="M1708.00 457.32H1726.20L1717.10 473.08Z"/><path d="M1703.60 455.12H1721.80L1712.70 470.88Z"/><path d="M1699.70 449.42H1717.90L1708.80 465.18Z"/><path d="M1695.70 447.72H1713.90L1704.80 463.48Z"/><path d="M1691.30 441.62H1709.50L1700.40 457.38Z"/><path d="M1687.00 440.22H1705.20L1696.10 455.98Z"/><path d="M1682.60 435.92H1700.80L1691.70 451.68Z"/><path d="M1678.20 431.02H1696.40L1687.30 446.78Z"/><path d="M1673.40 427.12H1691.60L1682.50 442.88Z"/><path d="M1668.60 421.42H1686.80L1677.70 437.18Z"/><path d="M1664.40 417.82H1682.60L1673.50 433.58Z"/><path d="M1659.80 413.32H1678.00L1668.90 429.08Z"/><path d="M1655.30 409.52H1673.50L1664.40 425.28Z"/><path d="M1650.80 405.02H1669.00L1659.90 420.78Z"/><path d="M1646.70 401.72H1664.90L1655.80 417.48Z"/><path d="M1642.20 396.82H1660.40L1651.30 412.58Z"/><path d="M1636.60 391.52H1654.80L1645.70 407.28Z"/><path d="M1632.40 387.02H1650.60L1641.50 402.78Z"/><path d="M1627.90 384.02H1646.10L1637.00 399.78Z"/><path d="M1623.10 380.62H1641.30L1632.20 396.38Z"/><path d="M1618.90 376.92H1637.10L1628.00 392.68Z"/><path d="M1616.10 373.62H1634.30L1625.20 389.38Z"/><path d="M1612.40 369.62H1630.60L1621.50 385.38Z"/><path d="M1608.60 366.02H1626.80L1617.70 381.78Z"/><path d="M1602.60 360.42H1620.80L1611.70 376.18Z"/><path d="M1597.70 356.32H1615.90L1606.80 372.08Z"/><path d="M1592.80 352.52H1611.00L1601.90 368.28Z"/><path d="M1587.20 345.02H1605.40L1596.30 360.78Z"/><path d="M1582.70 341.32H1600.90L1591.80 357.08Z"/><path d="M1578.20 335.62H1596.40L1587.30 351.38Z"/><path d="M1573.30 330.42H1591.50L1582.40 346.18Z"/><path d="M1568.10 326.32H1586.30L1577.20 342.08Z"/><path d="M1563.60 322.52H1581.80L1572.70 338.28Z"/><path d="M1558.90 315.92H1577.10L1568.00 331.68Z"/><path d="M1554.40 311.82H1572.60L1563.50 327.58Z"/><path d="M1549.10 305.42H1567.30L1558.20 321.18Z"/><path d="M1543.10 300.22H1561.30L1552.20 315.98Z"/><path d="M1537.50 292.72H1555.70L1546.60 308.48Z"/><path d="M1532.20 284.82H1550.40L1541.30 300.58Z"/><path d="M1525.10 277.62H1543.30L1534.20 293.38Z"/><path d="M1519.80 272.02H1538.00L1528.90 287.78Z"/><path d="M1514.60 265.62H1532.80L1523.70 281.38Z"/><path d="M1509.40 258.12H1527.60L1518.50 273.88Z"/><path d="M1504.10 250.52H1522.30L1513.20 266.28Z"/><path d="M1498.90 243.12H1517.10L1508.00 258.88Z"/><path d="M1494.10 236.82H1512.30L1503.20 252.58Z"/><path d="M1486.60 228.02H1504.80L1495.70 243.78Z"/><path d="M1481.40 221.12H1499.60L1490.50 236.88Z"/><path d="M1475.90 214.22H1494.10L1485.00 229.98Z"/><path d="M1468.40 205.52H1486.60L1477.50 221.28Z"/><path d="M1464.90 199.32H1483.10L1474.00 215.08Z"/><path d="M1458.60 189.92H1476.80L1467.70 205.68Z"/><path d="M1451.10 181.22H1469.30L1460.20 196.98Z"/><path d="M1443.60 173.72H1461.80L1452.70 189.48Z"/><path d="M1437.30 168.02H1455.50L1446.40 183.78Z"/><path d="M1431.10 164.02H1449.30L1440.20 179.78Z"/><path d="M1426.10 160.52H1444.30L1435.20 176.28Z"/><path d="M1417.30 157.42H1435.50L1426.40 173.18Z"/><path d="M1409.80 154.32H1428.00L1418.90 170.08Z"/><path d="M1400.40 152.42H1418.60L1409.50 168.18Z"/><path d="M1389.80 148.02H1408.00L1398.90 163.78Z"/><path d="M1381.00 148.02H1399.20L1390.10 163.78Z"/><path d="M1372.90 146.12H1391.10L1382.00 161.88Z"/><path d="M1364.10 143.02H1382.30L1373.20 158.78Z"/><path d="M1356.00 143.02H1374.20L1365.10 158.78Z"/><path d="M1348.50 140.52H1366.70L1357.60 156.28Z"/><path d="M1341.60 138.02H1359.80L1350.70 153.78Z"/><path d="M1332.80 137.42H1351.00L1341.90 153.18Z"/><path d="M1325.30 134.22H1343.50L1334.40 149.98Z"/><path d="M1320.30 133.62H1338.50L1329.40 149.38Z"/><path d="M1312.80 132.42H1331.00L1321.90 148.18Z"/><path d="M1306.60 131.12H1324.80L1315.70 146.88Z"/><path d="M1300.90 130.52H1319.10L1310.00 146.28Z"/><path d="M1295.30 129.22H1313.50L1304.40 144.98Z"/><path d="M1289.00 128.02H1307.20L1298.10 143.78Z"/><path d="M1280.10 127.32H1298.30L1289.20 143.08Z"/><path d="M1268.70 125.72H1286.90L1277.80 141.48Z"/><path d="M1258.50 123.52H1276.70L1267.60 139.28Z"/><path d="M1247.10 123.52H1265.30L1256.20 139.28Z"/><path d="M1237.90 121.92H1256.10L1247.00 137.68Z"/><path d="M1228.20 119.72H1246.40L1237.30 135.48Z"/><path d="M1220.60 120.32H1238.80L1229.70 136.08Z"/><path d="M1213.60 117.62H1231.80L1222.70 133.38Z"/><path d="M1207.10 117.62H1225.30L1216.20 133.38Z"/><path d="M1199.00 115.42H1217.20L1208.10 131.18Z"/><path d="M1193.10 116.02H1211.30L1202.20 131.78Z"/><path d="M1187.10 114.92H1205.30L1196.20 130.68Z"/><path d="M1182.30 114.32H1200.50L1191.40 130.08Z"/><path d="M1177.40 114.32H1195.60L1186.50 130.08Z"/><path d="M1171.40 111.62H1189.60L1180.50 127.38Z"/><path d="M1168.20 112.72H1186.40L1177.30 128.48Z"/><path d="M1162.80 111.62H1181.00L1171.90 127.38Z"/><path d="M1155.80 110.62H1174.00L1164.90 126.38Z"/><path d="M1145.50 108.92H1163.70L1154.60 124.68Z"/><path d="M1138.50 109.32H1156.70L1147.60 125.08Z"/><path d="M1133.10 108.92H1151.30L1142.20 124.68Z"/><path d="M1127.70 107.82H1145.90L1136.80 123.58Z"/><path d="M1123.30 107.52H1141.50L1132.40 123.28Z"/><path d="M1119.00 107.52H1137.20L1128.10 123.28Z"/><path d="M1115.20 106.82H1133.40L1124.30 122.58Z"/><path d="M1113.10 105.72H1131.30L1122.20 121.48Z"/><path d="M1110.90 105.72H1129.10L1120.00 121.48Z"/><path d="M1109.40 105.72H1127.60L1118.50 121.48Z"/><path d="M1106.90 105.12H1125.10L1116.00 120.88Z"/></g>
<rect x="1119.10" y="500.60" width="391.00" height="79.90" fill="#fff" stroke="#6a6a6a" stroke-width="1.1"/>
<path d="M1124.00 521.80H1172.30" stroke="#0072BD" stroke-width="0.8"/>
<g fill="#0072BD" stroke="#1a1a1a" stroke-width="1.1"><circle cx="1148.40" cy="521.80" r="7.9"/></g>
<path d="M1124.00 559.60H1172.30" stroke="#D95319" stroke-width="0.8"/>
<g fill="#A2142F" stroke="#1a1a1a" stroke-width="1.1"><path d="M1139.30 554.52H1157.50L1148.40 570.28Z"/></g>
<text x="1176.10" y="532.80" font-size="29.2" fill="#000">Beam current ramp up</text>
<text x="1176.10" y="570.80" font-size="29.2" fill="#000">Beam current ramp down</text>
<text transform="translate(1105.70,636.8) scale(1,1.035)" text-anchor="middle">0</text>
<text transform="translate(1247.34,636.8) scale(1,1.035)" text-anchor="middle">50</text>
<text transform="translate(1388.98,636.8) scale(1,1.035)" text-anchor="middle">100</text>
<text transform="translate(1530.62,636.8) scale(1,1.035)" text-anchor="middle">150</text>
<text transform="translate(1672.26,636.8) scale(1,1.035)" text-anchor="middle">200</text>
<text transform="translate(1813.90,636.8) scale(1,1.035)" text-anchor="middle">250</text>
<text transform="translate(1096.10,27.10) scale(1,1.035)" text-anchor="end">0.5</text>
<text transform="translate(1096.10,91.59) scale(1,1.035)" text-anchor="end">0</text>
<text transform="translate(1096.10,156.08) scale(1,1.035)" text-anchor="end">-0.5</text>
<text transform="translate(1096.10,220.57) scale(1,1.035)" text-anchor="end">-1</text>
<text transform="translate(1096.10,285.06) scale(1,1.035)" text-anchor="end">-1.5</text>
<text transform="translate(1096.10,349.54) scale(1,1.035)" text-anchor="end">-2</text>
<text transform="translate(1096.10,414.03) scale(1,1.035)" text-anchor="end">-2.5</text>
<text transform="translate(1096.10,478.52) scale(1,1.035)" text-anchor="end">-3</text>
<text transform="translate(1096.10,543.01) scale(1,1.035)" text-anchor="end">-3.5</text>
<text transform="translate(1096.10,607.50) scale(1,1.035)" text-anchor="end">-4</text>
<text x="1460.00" y="681.9" text-anchor="middle" font-size="35.8">Beam Current [mA]</text>
<text transform="translate(1026.7,460.75) rotate(-90) scale(1.13,1)" font-size="37">Δ</text>
<text transform="translate(1026.7,420.9) rotate(-90)" font-size="35.76">Frequency [MHz]</text>
<text transform="translate(399.58,769.4) scale(0.84,1)" font-family="'Liberation Serif', 'Times New Roman', serif" fill="#000" font-size="57.4">(</text>
<text transform="translate(416.92,769.4) scale(1.165,1)" font-family="'Liberation Serif', 'Times New Roman', serif" fill="#000" font-size="51">a</text>
<text transform="translate(443.51,769.4) scale(0.84,1)" font-family="'Liberation Serif', 'Times New Roman', serif" fill="#000" font-size="57.4">)</text>
<text transform="translate(1391.08,769.4) scale(0.84,1)" font-family="'Liberation Serif', 'Times New Roman', serif" fill="#000" font-size="57.4">(</text>
<text transform="translate(1409.90,769.4) scale(1.06,1)" font-family="'Liberation Serif', 'Times New Roman', serif" fill="#000" font-size="52.3">b</text>
<text transform="translate(1437.71,769.4) scale(0.84,1)" font-family="'Liberation Serif', 'Times New Roman', serif" fill="#000" font-size="57.4">)</text>
</svg>
</body></html>
